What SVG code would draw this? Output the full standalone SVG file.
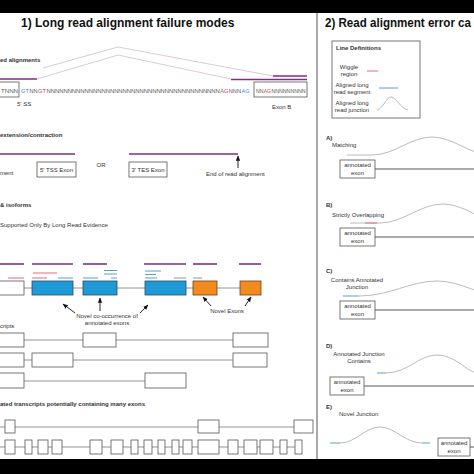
<svg xmlns="http://www.w3.org/2000/svg" width="474" height="474" viewBox="0 0 474 474">
<defs>
<style>
.t{font-family:"Liberation Sans",Arial,sans-serif;fill:#333;font-size:6px}
.b{font-weight:bold}
.ttl{font-family:"Liberation Sans",Arial,sans-serif;font-weight:bold;font-size:12px;fill:#111}
.ex{fill:#fff;stroke:#555;stroke-width:0.8}
.bx{fill:#1f9ad6;stroke:#2a4a66;stroke-width:0.8}
.ox{fill:#f28a1e;stroke:#6a4020;stroke-width:0.8}
.ln{stroke:#888;stroke-width:0.9;fill:none}
.dk{stroke:#444;stroke-width:0.9;fill:none}
.pu{stroke:#7b2f86;stroke-width:1.6}
.rd{stroke:#e06a7a;stroke-width:1}
.bl{stroke:#5a9fd4;stroke-width:1}
.jn{fill:none;stroke:#aaa;stroke-width:0.8}
.pj{fill:none;stroke:#d8c4cc;stroke-width:0.9}
.seq{font-family:"Liberation Sans",Arial,sans-serif;font-size:5.7px;fill:#555}
.sq2{font-size:5.2px}
.sb{fill:#3a8fd0}
.sr{fill:#d04545}
.arr{stroke:#111;stroke-width:0.9;marker-end:url(#ah)}
</style>
<marker id="ah" viewBox="0 0 10 10" refX="9" refY="5" markerWidth="6" markerHeight="6" orient="auto">
<path d="M0,1 L10,5 L0,9 Z" fill="#111"/>
</marker>
</defs>
<rect x="0" y="0" width="474" height="474" fill="#fff"/>
<rect x="0" y="0" width="474" height="13" fill="#000"/>
<rect x="0" y="459" width="474" height="15" fill="#000"/>
<line x1="317" y1="13" x2="317" y2="459" stroke="#555" stroke-width="1"/>

<text class="ttl" x="21" y="27">1) Long read alignment failure modes</text>
<text class="ttl" x="325" y="27" font-size="11.5" textLength="146" lengthAdjust="spacingAndGlyphs">2) Read alignment error ca</text>

<!-- Section 1 -->
<g id="sec1">
<text class="t b" x="0" y="62">ed alignments</text>
<path class="pj" d="M43,68 L118,47 L273,76"/>
<path class="pj" d="M37,79 L118,55 L231,79"/>
<line class="pu" x1="0" y1="79" x2="37" y2="79"/>
<line class="pu" x1="231" y1="79.5" x2="307" y2="79.5"/>
<line class="pu" x1="273" y1="76" x2="307" y2="76"/>
<rect class="ex" x="-2" y="82" width="21" height="15"/>
<rect class="ex" x="254" y="82" width="53" height="15"/>
<text class="seq" x="1" y="92.5" textLength="17" lengthAdjust="spacingAndGlyphs">TNNN</text>
<text class="seq sb" x="21" y="92.5" textLength="8" lengthAdjust="spacingAndGlyphs">GT</text>
<text class="seq" x="29.5" y="92.5" textLength="8" lengthAdjust="spacingAndGlyphs">NN</text>
<text class="seq sr" x="38" y="92.5" textLength="8" lengthAdjust="spacingAndGlyphs">GT</text>
<text class="seq" x="46.5" y="92.5" textLength="173.3" lengthAdjust="spacingAndGlyphs">NNNNNNNNNNNNNNNNNNNNNNNNNNNNNNNNNNNNNNNNN</text>
<text class="seq sr" x="220.3" y="92.5" textLength="8" lengthAdjust="spacingAndGlyphs">AG</text>
<text class="seq" x="228.8" y="92.5" textLength="12.2" lengthAdjust="spacingAndGlyphs">NNN</text>
<text class="seq sb" x="241.5" y="92.5" textLength="8" lengthAdjust="spacingAndGlyphs">AG</text>
<text class="seq sq2" x="256" y="92.5" textLength="7.4" lengthAdjust="spacingAndGlyphs">NN</text>
<text class="seq sq2 sr" x="263.7" y="92.5" textLength="7.4" lengthAdjust="spacingAndGlyphs">AG</text>
<text class="seq sq2" x="271.5" y="92.5" textLength="34" lengthAdjust="spacingAndGlyphs">NNNNNNNNN</text>
<text class="t" x="17" y="106">5' SS</text>
<text class="t" x="272" y="109">Exon B</text>
</g>

<!-- Section 2 -->
<g id="sec2">
<text class="t b" x="0" y="137">extension/contraction</text>
<line class="pu" x1="0" y1="154" x2="75" y2="154"/>
<line class="pu" x1="129" y1="154" x2="238" y2="154"/>
<text class="t" x="0" y="175">ment</text>
<g id="tss"><rect class="ex" x="37" y="162" width="39" height="15"/><text class="t" x="56.5" y="172" text-anchor="middle">5' TSS Exon</text></g>
<text class="t" x="101" y="167" text-anchor="middle">OR</text>
<g id="tes"><rect class="ex" x="129" y="162" width="38" height="15"/><text class="t" x="148" y="172" text-anchor="middle">3' TES Exon</text></g>
<text class="t" x="206" y="176">End of  read alignment</text>
</g>

<!-- Section 3 -->
<g id="sec3">
<text class="t b" x="0" y="207">&amp; isoforms</text>
<text class="t" x="0" y="227">Supported Only By Long Read Evidence</text>
<line class="pu" x1="0" y1="264" x2="24" y2="264"/>
<line class="pu" x1="32" y1="264" x2="73" y2="264"/>
<line class="pu" x1="83" y1="264" x2="107" y2="264"/>
<line class="pu" x1="144" y1="264" x2="186" y2="264"/>
<line class="pu" x1="193" y1="264" x2="217" y2="264"/>
<line class="pu" x1="239" y1="264" x2="261" y2="264"/>
<line class="rd" x1="33" y1="273" x2="57" y2="273"/>
<line class="rd" x1="8" y1="278" x2="24" y2="278"/>
<line class="rd" x1="32" y1="278" x2="47" y2="278"/>
<line class="bl" x1="58" y1="278" x2="73" y2="278"/>
<line class="bl" x1="83" y1="278" x2="98" y2="278"/>
<line class="bl" x1="104" y1="270.5" x2="117" y2="270.5"/>
<line class="bl" x1="104" y1="274" x2="117" y2="274"/>
<line class="bl" x1="111" y1="278" x2="117" y2="278"/>
<line class="bl" x1="145" y1="271" x2="161" y2="271"/>
<line class="bl" x1="145" y1="274.5" x2="156" y2="274.5"/>
<line class="bl" x1="145" y1="278" x2="157" y2="278"/>
<line class="ln" x1="174" y1="278" x2="186" y2="278"/>
<line class="ln" x1="193" y1="278" x2="202" y2="278"/>
<line class="ln" x1="24" y1="288" x2="240" y2="288"/>
<rect class="ex" x="-2" y="281" width="26" height="14"/>
<rect class="bx" x="32" y="281" width="41" height="14"/>
<rect class="bx" x="83" y="281" width="34" height="14"/>
<rect class="bx" x="145" y="281" width="41" height="14"/>
<rect class="ox" x="193" y="281" width="24" height="14"/>
<rect class="ox" x="240" y="281" width="21" height="14"/>
<text class="t" x="107" y="318" text-anchor="middle">Novel co-occurrence of</text>
<text class="t" x="107" y="325" text-anchor="middle">annotated exons</text>
<text class="t" x="227" y="313" text-anchor="middle">Novel Exons</text>
<text class="t" x="0" y="328">cripts</text>
<line class="ln" x1="24" y1="340" x2="233" y2="340"/>
<rect class="ex" x="-2" y="333" width="26" height="14"/>
<rect class="ex" x="83" y="333" width="33" height="14"/>
<rect class="ex" x="233" y="333" width="35" height="14"/>
<line class="ln" x1="24" y1="360" x2="233" y2="360"/>
<rect class="ex" x="-2" y="353" width="26" height="14"/>
<rect class="ex" x="32" y="353" width="41" height="14"/>
<rect class="ex" x="233" y="353" width="34" height="14"/>
<line class="ln" x1="24" y1="381" x2="145" y2="381"/>
<rect class="ex" x="-2" y="373" width="26" height="15"/>
<rect class="ex" x="145" y="373" width="41" height="15"/>
<text class="t b" x="0" y="406">ated transcripts potentially containing many exons</text>
<line class="ln" x1="0" y1="427" x2="294" y2="427"/>
<rect class="ex" x="5" y="420" width="10" height="13"/>
<rect class="ex" x="198" y="420" width="21" height="13"/>
<rect class="ex" x="294" y="420" width="19" height="13"/>
<line class="ln" x1="0" y1="447" x2="295" y2="447"/>
<rect class="ex" x="5" y="440" width="10" height="14"/>
<rect class="ex" x="25" y="440" width="7" height="14"/>
<rect class="ex" x="38" y="440" width="10" height="14"/>
<rect class="ex" x="52" y="440" width="10" height="14"/>
<rect class="ex" x="90" y="440" width="12" height="14"/>
<rect class="ex" x="111" y="440" width="12" height="14"/>
<rect class="ex" x="131" y="440" width="7" height="14"/>
<rect class="ex" x="144" y="440" width="8" height="14"/>
<rect class="ex" x="158" y="440" width="7" height="14"/>
<rect class="ex" x="172" y="440" width="7" height="14"/>
<rect class="ex" x="183" y="440" width="9" height="14"/>
<rect class="ex" x="198" y="440" width="21" height="14"/>
<rect class="ex" x="228" y="440" width="10" height="14"/>
<rect class="ex" x="244" y="440" width="13" height="14"/>
<rect class="ex" x="260" y="440" width="13" height="14"/>
<rect class="ex" x="280" y="440" width="7" height="14"/>
<rect class="ex" x="295" y="440" width="7" height="14"/>
</g>

<g id="connectors">
<line class="arr" x1="238" y1="168" x2="238" y2="156"/>
<line class="arr" x1="75" y1="313" x2="63" y2="304"/>
<line class="arr" x1="100" y1="311" x2="100" y2="298"/>
<line class="arr" x1="140" y1="313" x2="148" y2="305"/>
<line class="arr" x1="211" y1="306" x2="203" y2="297"/>
<line class="arr" x1="245" y1="306" x2="251" y2="297"/>
</g>

<!-- Right panel -->
<g id="legend">
<rect x="332" y="41" width="88" height="77" fill="#fff" stroke="#666" stroke-width="0.9"/>
<text class="t b" x="336" y="50" font-size="5.5">Line Definitions</text>
<text class="t" x="349" y="69" text-anchor="middle" font-size="5.5">Wiggle</text>
<text class="t" x="349" y="76" text-anchor="middle" font-size="5.5">region</text>
<line class="rd" x1="367" y1="71" x2="378" y2="71"/>
<text class="t" x="352" y="87" text-anchor="middle" font-size="5.5">Aligned long</text>
<text class="t" x="352" y="94" text-anchor="middle" font-size="5.5">read segment</text>
<line class="bl" x1="379" y1="88" x2="398" y2="88"/>
<text class="t" x="352" y="105" text-anchor="middle" font-size="5.5">Aligned long</text>
<text class="t" x="352" y="112" text-anchor="middle" font-size="5.5">read junction</text>
<path class="jn" d="M377,110 C384,108 386,97 391,97 C396,97 400,108 408,110"/>
</g>

<g id="caseA">
<text class="t b" x="326" y="140">A)</text>
<text class="t" x="332" y="147">Matching</text>
<path class="jn" d="M347,155 L372,155 C395,155 410,137 432,137 C454,137 469,155 492,155"/>
<line class="dk" x1="375" y1="169" x2="474" y2="169"/>
<rect class="ex" x="340" y="160" width="35" height="18"/>
<text class="t" x="357.5" y="167" text-anchor="middle">annotated</text>
<text class="t" x="357.5" y="174.5" text-anchor="middle">exon</text>
</g>

<g id="caseB">
<text class="t b" x="326" y="207">B)</text>
<text class="t" x="332" y="217">Strictly Overlapping</text>
<path class="jn" d="M350,223 L380,223 C403,223 420,204 443,204 C466,204 481,223 504,223"/>
<line class="rd" x1="365" y1="223" x2="377" y2="223"/>
<line class="dk" x1="375" y1="237" x2="474" y2="237"/>
<rect class="ex" x="340" y="228" width="35" height="18"/>
<text class="t" x="357.5" y="235" text-anchor="middle">annotated</text>
<text class="t" x="357.5" y="242.5" text-anchor="middle">exon</text>
</g>

<g id="caseC">
<text class="t b" x="326" y="273">C)</text>
<text class="t" x="357" y="282" text-anchor="middle">Contains Annotated</text>
<text class="t" x="357" y="289" text-anchor="middle">Junction</text>
<line class="bl" x1="343" y1="296" x2="359" y2="296"/>
<path class="jn" d="M359,296 C390,296 410,281 437,281 C462,281 478,296 505,296"/>
<line class="dk" x1="375" y1="310" x2="474" y2="310"/>
<rect class="ex" x="340" y="301" width="35" height="18"/>
<text class="t" x="357.5" y="308" text-anchor="middle">annotated</text>
<text class="t" x="357.5" y="315.5" text-anchor="middle">exon</text>
</g>

<g id="caseD">
<text class="t b" x="326" y="348">D)</text>
<text class="t" x="359" y="356" text-anchor="middle">Annotated Junction</text>
<text class="t" x="359" y="363" text-anchor="middle">Contains</text>
<line class="bl" x1="377" y1="373" x2="386" y2="373"/>
<path class="jn" d="M386,373 C408,373 418,355 437,355 C456,355 466,372 478,373"/>
<line class="dk" x1="364" y1="386" x2="474" y2="386"/>
<rect class="ex" x="330" y="377" width="34" height="18"/>
<text class="t" x="347" y="384" text-anchor="middle">annotated</text>
<text class="t" x="347" y="391.5" text-anchor="middle">exon</text>
</g>

<g id="caseE">
<text class="t b" x="326" y="409">E)</text>
<text class="t" x="339" y="416">Novel Junction</text>
<line class="bl" x1="330" y1="443" x2="340" y2="443"/>
<path class="jn" d="M340,443 C356,443 365,427 380,427 C395,427 405,443 422,443"/>
<line class="bl" x1="422" y1="443" x2="430" y2="443"/>
<rect class="ex" x="438" y="438" width="32" height="18"/>
<text class="t" x="454" y="445" text-anchor="middle">annotated</text>
<text class="t" x="454" y="452.5" text-anchor="middle">exon</text>
<line class="dk" x1="470" y1="447" x2="474" y2="447"/>
</g>
</svg>
